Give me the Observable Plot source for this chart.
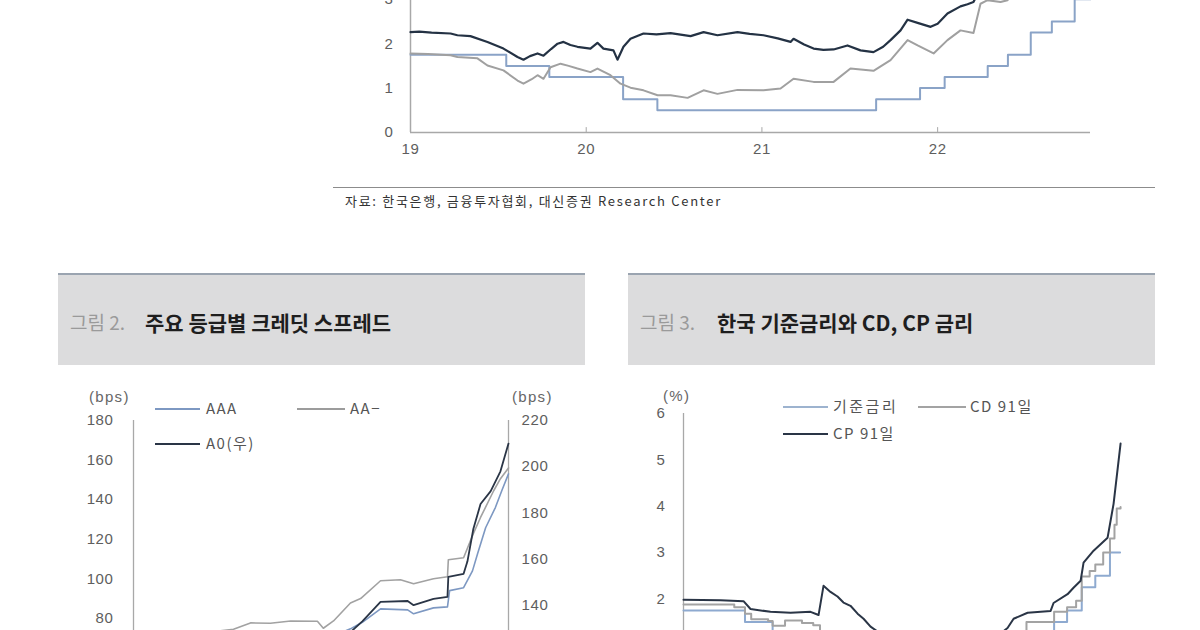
<!DOCTYPE html>
<html>
<head>
<meta charset="utf-8">
<script src="https://cdn.jsdelivr.net/npm/d3@7"></script>
<script src="https://cdn.jsdelivr.net/npm/@observablehq/plot@0.6"></script>
<style>
  html, body { margin: 0; padding: 0; background: #fff; }
  body { width: 1200px; height: 630px; overflow: hidden; position: relative; font-family: "Liberation Sans", Arial, sans-serif; }
  .abs { position: absolute; }
  .hdr { position: absolute; top: 273px; height: 92px; width: 527px; background: #dcdcdd; border-top: 2px solid #9aa4b0; box-sizing: border-box; }
  .hdr span { position: absolute; top: 29px; font-family: "Noto Sans CJK KR", sans-serif; line-height: 36px; white-space: nowrap; }
  .hdr .num { color: #9a9a9a; font-weight: 400; font-size: 19px; }
  .hdr .ttl { color: #1e1e1e; font-weight: 700; font-size: 21px; }
  .lab { position: absolute; font-size: 15px; color: #666; white-space: nowrap; letter-spacing: 1.3px; line-height: 18px; font-family: "Liberation Sans", Arial, sans-serif; }
  .leg { position: absolute; height: 0; }
  .legt { position: absolute; font-size: 15px; color: #555; white-space: nowrap; line-height: 18px; letter-spacing: 1.5px; font-family: "Noto Sans CJK KR", "Liberation Sans", sans-serif; }
</style>
</head>
<body>
<div id="c1" class="abs" style="left:0;top:-100px;"></div>
<div class="abs" style="left:333px;top:187px;width:822px;border-top:1.5px solid #8c8c8c;"></div>
<div class="abs" style="left:345px;top:192px;font-size:13px;letter-spacing:1.7px;color:#333;font-family:'Noto Sans CJK KR',sans-serif;white-space:nowrap;line-height:18px;">자료: 한국은행, 금융투자협회, 대신증권 Research Center</div>

<div class="hdr" style="left:58px;"><span class="num" style="left:12px;">그림 2.</span><span class="ttl" style="left:87px;">주요 등급별 크레딧 스프레드</span></div>
<div class="hdr" style="left:628px;"><span class="num" style="left:12px;">그림 3.</span><span class="ttl" style="left:89px;">한국 기준금리와 CD, CP 금리</span></div>

<div id="c2" class="abs" style="left:0;top:380px;"></div>
<div id="c3" class="abs" style="left:600px;top:380px;"></div>

<div class="lab" style="left:89px;top:388px;">(bps)</div>
<div class="lab" style="left:512px;top:388px;">(bps)</div>
<div class="lab" style="left:663px;top:387px;">(%)</div>

<div class="leg" style="left:155px;top:408px;width:45px;border-top:2px solid #7d98c2;"></div>
<div class="legt" style="left:206px;top:399px;">AAA</div>
<div class="leg" style="left:297px;top:408px;width:48px;border-top:2px solid #9c9c9c;"></div>
<div class="legt" style="left:350px;top:399px;">AA−</div>
<div class="leg" style="left:155px;top:443px;width:45px;border-top:2px solid #2a3546;"></div>
<div class="legt" style="left:206px;top:434px;">A0(우)</div>

<div class="leg" style="left:783px;top:406px;width:45px;border-top:2px solid #9db3cf;"></div>
<div class="legt" style="left:833px;top:397px;letter-spacing:2.5px;">기준금리</div>
<div class="leg" style="left:918px;top:406px;width:48px;border-top:2px solid #a3a3a3;"></div>
<div class="legt" style="left:970px;top:397px;">CD 91일</div>
<div class="leg" style="left:783px;top:433px;width:45px;border-top:2px solid #2a3546;"></div>
<div class="legt" style="left:833px;top:424px;">CP 91일</div>

<script>
// ---------- DATA ----------
// x values are decimal years (19 = 2019)
const xTicks1 = [19, 20, 21, 22];
const yTicks1 = [0, 1, 2, 3];

// Korea base rate (step series), shared by charts 1 and 3
const baseRate = [
  [19.0, 1.75], [19.545, 1.50], [19.79, 1.25], [20.21, 0.75], [20.405, 0.50],
  [21.65, 0.75], [21.90, 1.00], [22.04, 1.25], [22.285, 1.50], [22.40, 1.75],
  [22.53, 2.25], [22.65, 2.50], [22.78, 3.00], [22.87, 3.00]
];

// Chart 1: dark series
const topDark = [
  [19.0, 2.26], [19.05, 2.27], [19.12, 2.25], [19.228, 2.23], [19.267, 2.19], [19.341, 2.17],
  [19.438, 2.04], [19.529, 1.89], [19.609, 1.70], [19.643, 1.64], [19.68, 1.72], [19.723, 1.78],
  [19.757, 1.73], [19.80, 1.88], [19.837, 2.00], [19.871, 2.04], [19.91, 1.97], [19.950, 1.93],
  [20.024, 1.89], [20.064, 2.02], [20.098, 1.89], [20.155, 1.85], [20.178, 1.64], [20.212, 1.93],
  [20.252, 2.11], [20.326, 2.23], [20.40, 2.21], [20.480, 2.24], [20.594, 2.17], [20.668, 2.26],
  [20.747, 2.19], [20.861, 2.26], [20.93, 2.22], [21.009, 2.19], [21.09, 2.12], [21.163, 2.04],
  [21.180, 2.11], [21.24, 1.98], [21.294, 1.89], [21.35, 1.86], [21.408, 1.87], [21.487, 1.96],
  [21.561, 1.85], [21.635, 1.81], [21.69, 1.93], [21.732, 2.08], [21.789, 2.30], [21.829, 2.54],
  [21.886, 2.47], [21.960, 2.38], [22.000, 2.45], [22.056, 2.68], [22.130, 2.84], [22.170, 2.89],
  [22.204, 2.94], [22.25, 3.30], [22.35, 3.55], [22.45, 4.00], [22.55, 4.40], [22.65, 4.30],
  [22.75, 5.00], [22.82, 5.60], [22.87, 5.40]
];

// Chart 1: gray series
const topGray = [
  [19.0, 1.78], [19.10, 1.77], [19.228, 1.74], [19.267, 1.70], [19.381, 1.67], [19.438, 1.51],
  [19.529, 1.40], [19.609, 1.17], [19.643, 1.10], [19.69, 1.20], [19.723, 1.29], [19.757, 1.21],
  [19.797, 1.47], [19.854, 1.55], [19.90, 1.50], [19.950, 1.44], [20.024, 1.36], [20.064, 1.44],
  [20.138, 1.29], [20.195, 1.10], [20.252, 1.01], [20.326, 0.95], [20.406, 0.84], [20.480, 0.84],
  [20.577, 0.78], [20.668, 0.95], [20.747, 0.87], [20.861, 0.96], [21.009, 0.95], [21.106, 0.99],
  [21.180, 1.21], [21.294, 1.14], [21.408, 1.14], [21.504, 1.44], [21.635, 1.39], [21.732, 1.63],
  [21.829, 2.08], [21.886, 1.96], [21.977, 1.78], [22.056, 2.08], [22.130, 2.30], [22.204, 2.24],
  [22.244, 2.90], [22.284, 2.98], [22.358, 2.94], [22.398, 2.98], [22.45, 3.30], [22.55, 3.20],
  [22.65, 3.40], [22.75, 4.10], [22.82, 4.40], [22.87, 4.00]
];

// Chart 2: credit spreads (bps); AAA and AA- on left axis, A0 on right axis
const leftTicks2 = [80, 100, 120, 140, 160, 180];
const rightTicks2 = [140, 160, 180, 200, 220];
const spreadAAA = [
  [22.0, 50], [22.2, 58], [22.4, 65], [22.512, 74.7], [22.54, 78], [22.583, 84.8], [22.647, 84.3],
  [22.661, 82.3], [22.708, 85.3], [22.741, 85.8], [22.746, 94], [22.779, 95.5], [22.80, 104],
  [22.812, 112.7], [22.831, 125.8], [22.854, 136], [22.870, 145], [22.885, 153]
];
const spreadAAminus = [
  [22.0, 62], [22.04, 64], [22.10, 66], [22.158, 72.5], [22.236, 74.5], [22.276, 77.7], [22.323, 77.5],
  [22.371, 78.7], [22.434, 78.5], [22.448, 75], [22.472, 78.7], [22.512, 87.8], [22.536, 90],
  [22.583, 99], [22.630, 99.5], [22.661, 97.5], [22.708, 100], [22.741, 101], [22.743, 109.6],
  [22.779, 110.6], [22.802, 122.8], [22.819, 131], [22.850, 144.5], [22.866, 150.6], [22.885, 156]
];
const spreadA0 = [
  [22.0, 105], [22.1, 110], [22.2, 115], [22.3, 120], [22.45, 124], [22.512, 128.3], [22.54, 133],
  [22.583, 141.4], [22.647, 141.8], [22.661, 140], [22.708, 142.7], [22.741, 143.6], [22.743, 152.3],
  [22.779, 153.6], [22.788, 158.9], [22.802, 173], [22.819, 183.8], [22.843, 189.4], [22.866, 198],
  [22.885, 210]
];

// Chart 3: CD and CP 91-day rates (%)
const yTicks3 = [2, 3, 4, 5, 6];
const cd91 = [
  [19.0, 1.88], [19.3, 1.88], [19.45, 1.82], [19.545, 1.68], [19.6, 1.56], [19.75, 1.52],
  [19.79, 1.42], [19.9, 1.53], [20.05, 1.48], [20.15, 1.43], [20.21, 1.10], [20.3, 1.00],
  [20.41, 0.80], [20.6, 0.65], [21.0, 0.68], [21.5, 0.72], [21.65, 0.95], [21.8, 1.10],
  [21.9, 1.29], [22.0, 1.29], [22.04, 1.50], [22.2, 1.50], [22.285, 1.72], [22.4, 1.82],
  [22.48, 1.96], [22.53, 2.48], [22.6, 2.60], [22.65, 2.74], [22.72, 3.00], [22.78, 3.30],
  [22.82, 3.60], [22.84, 3.95], [22.874, 3.98]
];
const cp91 = [
  [19.0, 1.98], [19.328, 1.97], [19.532, 1.95], [19.594, 1.78], [19.771, 1.72], [19.949, 1.70],
  [20.126, 1.72], [20.197, 1.65], [20.241, 2.28], [20.303, 2.15], [20.365, 2.05], [20.418, 1.92],
  [20.480, 1.85], [20.543, 1.68], [20.596, 1.57], [20.658, 1.40], [20.746, 1.25], [20.924, 1.12],
  [21.367, 1.00], [21.633, 1.05], [21.810, 1.25], [21.872, 1.37], [21.926, 1.57], [22.050, 1.70],
  [22.254, 1.74], [22.280, 1.91], [22.404, 2.10], [22.457, 2.24], [22.520, 2.39], [22.546, 2.78],
  [22.635, 3.04], [22.759, 3.32], [22.812, 4.05], [22.874, 5.35]
];

// ---------- CHARTS ----------
const rows = (arr) => arr.map(([x, y]) => ({x, y}));
const font = "'Liberation Sans', Arial, sans-serif";
const axisColor = "#a8a8a8";
const cBase = "#8aa3c7", cGray = "#a0a0a0", cDark = "#243244";
const tickStyle = {fontFamily: font, fontSize: "15px", color: "#5e5e5e", background: "transparent", overflow: "visible", letterSpacing: "0.6px"};

const c1 = Plot.plot({
  width: 1200, height: 272,
  marginLeft: 410, marginRight: 110, marginTop: 10, marginBottom: 40,
  x: {domain: [19, 22.87], label: null},
  y: {domain: [0, 5], label: null},
  style: tickStyle,
  marks: [
    Plot.ruleX([19], {stroke: axisColor, strokeWidth: 1.5}),
    Plot.ruleY([0], {stroke: axisColor, strokeWidth: 1.5}),
    Plot.ruleX(xTicks1.slice(1), {y1: 0, y2: 0.11, stroke: axisColor}),
    Plot.axisY({ticks: yTicks1, tickSize: 0, tickPadding: 17, tickFormat: d => String(d)}),
    Plot.axisX({ticks: xTicks1, tickSize: 0, tickPadding: 11, tickFormat: d => String(d)}),
    Plot.line(rows(baseRate), {x: "x", y: "y", curve: "step-after", stroke: cBase, strokeWidth: 2}),
    Plot.line(rows(topGray), {x: "x", y: "y", stroke: cGray, strokeWidth: 2}),
    Plot.line(rows(topDark), {x: "x", y: "y", stroke: cDark, strokeWidth: 2.2})
  ]
});
document.getElementById("c1").append(c1);

// right-axis (A0) values expressed on the left axis
const toLeft = r => 180 - (220 - r) * (140 / 120);
const toRight = l => 220 - (180 - l) * (120 / 140);

const c2 = Plot.plot({
  width: 600, height: 347,
  marginLeft: 133, marginRight: 92, marginTop: 40, marginBottom: 30,
  x: {domain: [22, 22.885], label: null},
  y: {domain: [40, 180], label: null},
  style: tickStyle,
  marks: [
    Plot.ruleX([22], {stroke: axisColor, strokeWidth: 1.3}),
    Plot.ruleX([22.885], {stroke: axisColor, strokeWidth: 1.3}),
    Plot.axisY({anchor: "left", ticks: leftTicks2, tickSize: 0, tickPadding: 20, tickFormat: d => String(d)}),
    Plot.axisY({anchor: "right", ticks: rightTicks2.map(toLeft), tickSize: 0, tickPadding: 13, tickFormat: d => String(Math.round(toRight(d)))}),
    Plot.line(rows(spreadAAminus), {x: "x", y: "y", stroke: "#a2a2a2", strokeWidth: 1.6}),
    Plot.line(rows(spreadAAA), {x: "x", y: "y", stroke: "#7d98c2", strokeWidth: 1.6}),
    Plot.line(spreadA0.map(([x, y]) => ({x, y: toLeft(y)})), {x: "x", y: "y", stroke: "#2a3546", strokeWidth: 1.8})
  ]
});
document.getElementById("c2").append(c2);

const c3 = Plot.plot({
  width: 560, height: 341,
  marginLeft: 83, marginRight: 37, marginTop: 33, marginBottom: 30,
  x: {domain: [19, 22.9], label: null},
  y: {domain: [0, 6], label: null},
  style: tickStyle,
  marks: [
    Plot.ruleX([19], {stroke: axisColor, strokeWidth: 1.3}),
    Plot.axisY({ticks: yTicks3, tickSize: 0, tickPadding: 18, tickFormat: d => String(d)}),
    Plot.line(rows(baseRate), {x: "x", y: "y", curve: "step-after", stroke: "#8eaad0", strokeWidth: 2}),
    Plot.line(rows(cd91), {x: "x", y: "y", curve: "step-after", stroke: "#a3a3a3", strokeWidth: 2}),
    Plot.line(rows(cp91), {x: "x", y: "y", stroke: "#2a3546", strokeWidth: 2})
  ]
});
document.getElementById("c3").append(c3);
</script>
</body>
</html>
